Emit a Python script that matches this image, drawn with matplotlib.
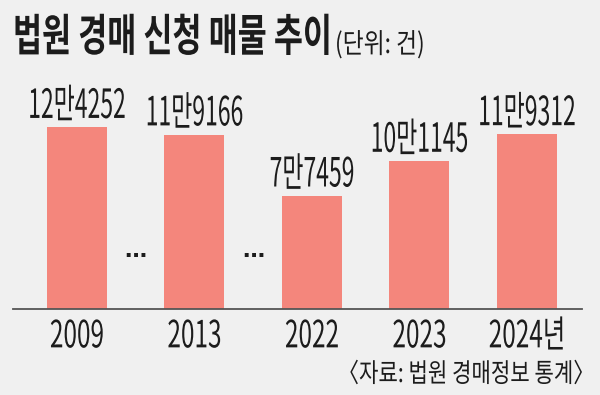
import matplotlib
matplotlib.use("Agg")
import matplotlib.pyplot as plt
from matplotlib.patheffects import AbstractPathEffect
from matplotlib.transforms import Affine2D, Bbox

# ---- data ----
years = ["2009", "2013", "2022", "2023", "2024년"]
values = [124252, 119166, 77459, 101145, 119312]
value_labels = ["12만4252", "11만9166", "7만7459", "10만1145", "11만9312"]
title = "법원 경매 신청 매물 추이"
unit = "(단위: 건)"
source = "〈자료: 법원 경매정보 통계〉"

# ---- layout / style ----
positions = [0, 1.093, 2.186, 3.186, 4.186]
gap_marks = [(positions[0] + positions[1]) / 2, (positions[1] + positions[2]) / 2]
BG = "#f0f0f0"
BAR = "#f4867c"
TXT = "#1c1c1c"
KR = ["Noto Sans CJK KR", "DejaVu Sans"]


class HScale(AbstractPathEffect):
    """Condense each text line horizontally around its drawing origin."""
    def __init__(self, sx):
        super().__init__()
        self.sx = sx

    def draw_path(self, renderer, gc, tpath, affine, rgbFace=None):
        x0 = affine.get_matrix()[0, 2]
        t = affine + Affine2D().translate(-x0, 0).scale(self.sx, 1).translate(x0, 0)
        renderer.draw_path(gc, tpath, t, rgbFace)


def condense(txt, sx):
    """Condensed text: the layout (and so the reported extent) is narrowed too."""
    txt.set_path_effects([HScale(sx)])
    orig = txt._get_layout

    def layout(renderer):
        bbox, info, descent = orig(renderer)
        bbox = Bbox.from_bounds(bbox.x0 * sx, bbox.y0, bbox.width * sx, bbox.height)
        info = [(line, (wh[0] * sx, wh[1]), x * sx, y) for line, wh, x, y in info]
        return bbox, info, descent

    txt._get_layout = layout
    return txt


fig = plt.figure(figsize=(6, 3.95), dpi=100, facecolor=BG)
ax = fig.add_axes([13 / 600, (395 - 309.3) / 395, 569 / 600, 229.3 / 395])
ax.set_facecolor(BG)

ax.bar(positions, values, width=0.558, color=BAR, zorder=2)
ax.set_xlim(-0.595, 4.698)
ax.set_ylim(0, 156500)

for s in ["top", "right", "left"]:
    ax.spines[s].set_visible(False)
ax.spines["bottom"].set_color("#555555")
ax.spines["bottom"].set_linewidth(1.3)
ax.set_yticks([])

ax.set_xticks(positions, years)
ax.tick_params(axis="x", length=0, pad=27.4)
for lbl in ax.get_xticklabels():
    lbl.set_va("baseline")
    lbl.set_family(KR)
    lbl.set_fontsize(27)
    lbl.set_color(TXT)
    condense(lbl, 0.65)

for x, v, lab in zip(positions, values, value_labels):
    t = ax.annotate(lab, xy=(x, v), xytext=(0, 6.7), textcoords="offset points",
                    ha="center", va="baseline", fontsize=29, family=KR,
                    color=TXT)
    condense(t, 0.57)

for gx in gap_marks:
    ax.annotate("…", xy=(gx, 0), xytext=(0, 38), textcoords="offset points",
                ha="center", va="baseline", fontsize=16, family=["DejaVu Sans"],
                color=TXT, fontweight="bold")

condense(fig.text(13 / 600, (395 - 51) / 395, title, ha="left", va="baseline",
                  fontsize=32, fontweight="bold", family=KR, color=TXT), 0.71)
condense(fig.text(335 / 600, (395 - 53) / 395, unit, ha="left", va="baseline",
                  fontsize=20, family=KR, color=TXT), 0.82)
condense(fig.text(594 / 600, (395 - 382) / 395, source, ha="right", va="baseline",
                  fontsize=19, family=KR, color=TXT), 0.80)

fig.savefig("out.png", dpi=100, facecolor=BG)
